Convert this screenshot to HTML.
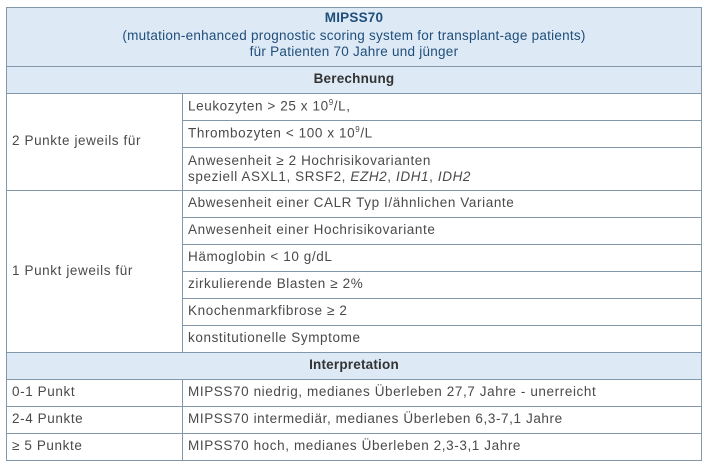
<!DOCTYPE html>
<html><head><meta charset="utf-8"><style>
body{margin:0;background:#fff;width:708px;height:473px;font-family:"Liberation Sans",sans-serif;font-size:13.5px;letter-spacing:0.6px;color:#4a4a4a;}
.b{position:absolute;box-sizing:border-box;}
.h{background:#dde9f5;}
.t{position:absolute;white-space:nowrap;}
.ln{position:absolute;background:#8397ab;}
</style></head><body>
<div class="b h" style="left:6px;top:7px;width:696px;height:59px"></div>
<div class="b h" style="left:6px;top:66px;width:696px;height:27px"></div>
<div class="b h" style="left:6px;top:352px;width:696px;height:27px"></div>
<div class="ln" style="left:6px;top:7px;width:696px;height:1px"></div>
<div class="ln" style="left:6px;top:460px;width:696px;height:1px"></div>
<div class="ln" style="left:6px;top:7px;width:1px;height:454px"></div>
<div class="ln" style="left:701px;top:7px;width:1px;height:454px"></div>
<div class="ln" style="left:6px;top:66px;width:696px;height:1px"></div>
<div class="ln" style="left:6px;top:93px;width:696px;height:1px"></div>
<div class="ln" style="left:6px;top:190px;width:696px;height:1px"></div>
<div class="ln" style="left:6px;top:352px;width:696px;height:1px"></div>
<div class="ln" style="left:6px;top:379px;width:696px;height:1px"></div>
<div class="ln" style="left:6px;top:406px;width:696px;height:1px"></div>
<div class="ln" style="left:6px;top:433px;width:696px;height:1px"></div>
<div class="ln" style="left:182px;top:120px;width:520px;height:1px"></div>
<div class="ln" style="left:182px;top:147px;width:520px;height:1px"></div>
<div class="ln" style="left:182px;top:217px;width:520px;height:1px"></div>
<div class="ln" style="left:182px;top:244px;width:520px;height:1px"></div>
<div class="ln" style="left:182px;top:271px;width:520px;height:1px"></div>
<div class="ln" style="left:182px;top:298px;width:520px;height:1px"></div>
<div class="ln" style="left:182px;top:325px;width:520px;height:1px"></div>
<div class="ln" style="left:182px;top:93px;width:1px;height:259px"></div>
<div class="ln" style="left:182px;top:379px;width:1px;height:82px"></div>

<div class="t" style="left:6px;width:696px;top:10px;text-align:center;color:#1f4e7a;font-weight:bold;font-size:13.5px;letter-spacing:0.2px">MIPSS70</div>
<div class="t" style="left:6px;width:696px;top:28px;text-align:center;color:#1f4e7a;letter-spacing:0.25px">(mutation-enhanced prognostic scoring system for transplant-age patients)</div>
<div class="t" style="left:6px;width:696px;top:44px;text-align:center;color:#1f4e7a;letter-spacing:0.25px">für Patienten 70 Jahre und jünger</div>
<div class="t" style="left:6px;width:696px;top:71px;text-align:center;color:#333;font-weight:bold;letter-spacing:0.2px">Berechnung</div>
<div class="t" style="left:6px;width:696px;top:357px;text-align:center;color:#333;font-weight:bold;letter-spacing:0.2px">Interpretation</div>

<div class="t" style="left:12px;top:133px">2 Punkte jeweils für</div>
<div class="t" style="left:12px;top:263px">1 Punkt jeweils für</div>
<div class="t" style="left:188px;top:98px">Leukozyten &gt; 25 x 10<sup style="font-size:8px">9</sup>/L,</div>
<div class="t" style="left:188px;top:125px">Thrombozyten &lt; 100 x 10<sup style="font-size:8px">9</sup>/L</div>
<div class="t" style="left:188px;top:153px">Anwesenheit ≥ 2 Hochrisikovarianten</div>
<div class="t" style="left:188px;top:169px">speziell ASXL1, SRSF2, <i>EZH2</i>, <i>IDH1</i>, <i>IDH2</i></div>
<div class="t" style="left:188px;top:195px">Abwesenheit einer CALR Typ I/ähnlichen Variante</div>
<div class="t" style="left:188px;top:222px">Anwesenheit einer Hochrisikovariante</div>
<div class="t" style="left:188px;top:249px">Hämoglobin &lt; 10 g/dL</div>
<div class="t" style="left:188px;top:276px">zirkulierende Blasten ≥ 2%</div>
<div class="t" style="left:188px;top:303px">Knochenmarkfibrose ≥ 2</div>
<div class="t" style="left:188px;top:330px">konstitutionelle Symptome</div>
<div class="t" style="left:12px;top:384px">0-1 Punkt</div>
<div class="t" style="left:12px;top:411px">2-4 Punkte</div>
<div class="t" style="left:12px;top:438px">≥ 5 Punkte</div>
<div class="t" style="left:188px;top:384px">MIPSS70 niedrig, medianes Überleben 27,7 Jahre - unerreicht</div>
<div class="t" style="left:188px;top:411px">MIPSS70 intermediär, medianes Überleben 6,3-7,1 Jahre</div>
<div class="t" style="left:188px;top:438px">MIPSS70 hoch, medianes Überleben 2,3-3,1 Jahre</div>
</body></html>
